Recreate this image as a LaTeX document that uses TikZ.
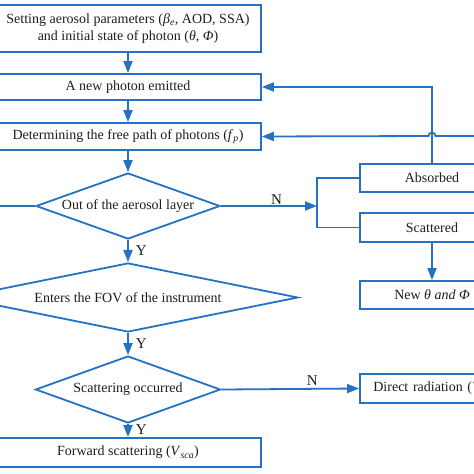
\documentclass[tikz,border=0pt]{standalone}
\usepackage{fontspec}
\setmainfont{Liberation Serif}
\usetikzlibrary{arrows.meta,shapes.geometric}
\definecolor{flowblue}{RGB}{37,114,196}
\definecolor{txt}{RGB}{30,30,30}
\tikzset{
  box/.style={draw=flowblue,line width=1.8pt,rectangle,inner sep=0pt,text=txt,
    font=\fontsize{14}{17}\selectfont,align=center},
  dia/.style={draw=flowblue,line width=1.8pt,diamond,inner sep=0pt,text=txt,
    font=\fontsize{14}{17}\selectfont},
  conn/.style={draw=flowblue,line width=1.8pt},
  arr/.style={conn,-{Triangle[length=12pt,width=9pt]}},
  lab/.style={text=txt,font=\fontsize{15}{17}\selectfont,inner sep=0pt}
}
\begin{document}
\begin{tikzpicture}[x=1pt,y=-1pt]
\useasboundingbox (0,0) rectangle (474,474);
\clip (0,0) rectangle (474,474);
\fill[white] (0,0) rectangle (474,474);
% main column
\node[box,minimum width=266pt,minimum height=47pt] (init) at (128,28.5)
  {Setting aerosol parameters (\textit{β}\textsubscript{\textit{e}}, AOD, SSA)\\and initial state of photon (\textit{θ}, \textit{Φ})};
\node[box,minimum width=266pt,minimum height=26pt] (emit) at (128,87) {A new photon emitted};
\node[box,minimum width=266pt,minimum height=27pt] (path) at (128,136.5)
  {Determining the free path of photons (\textit{f}\textsubscript{\textit{p}})};
\node[dia,shape aspect=2.79,minimum width=184pt,minimum height=66pt] (out) at (128,206) {Out of the aerosol layer};
\node[dia,shape aspect=4.93,minimum width=340pt,minimum height=69pt] (fov) at (128,297.5) {Enters the FOV of the instrument};
\node[dia,shape aspect=2.76,minimum width=185pt,minimum height=67pt] (scat) at (128,389.5) {Scattering occurred};
\node[box,minimum width=266pt,minimum height=29pt] (fwd) at (128,452.5)
  {Forward scattering (\textit{V}\textsubscript{\textit{sca}})};
% right column
\node[box,minimum width=144pt,minimum height=28pt] (abs) at (432,178) {Absorbed};
\node[box,minimum width=144pt,minimum height=29pt] (sca) at (432,227.5) {Scattered};
\node[box,minimum width=144pt,minimum height=28pt] (new) at (432,295) {New \textit{θ and Φ}};
\node[box,minimum width=144pt,minimum height=29pt,text width=144pt] (dir) at (432,388.5)
  {\hspace*{8pt}Direct radiation (\textit{V}\textsubscript{\textit{dir}})};
% coordinates
\coordinate (brk) at (317,206);
\coordinate (leftend) at (-10,206);
\coordinate (fpin) at (490,136);
\coordinate (hop) at (432,136);
\coordinate (upturn) at (432,87);
% connectors
\draw[arr] (init) -- (emit);
\draw[arr] (emit) -- (path);
\draw[arr] (path) -- (out.north);
\draw[arr] (out.south) -- node[lab,right=7pt,pos=0.5]{Y} (fov.north);
\draw[arr] (fov.south) -- node[lab,right=7pt,pos=0.5]{Y} (scat.north);
\draw[arr] (scat.south) -- node[lab,right=7pt,pos=0.4]{Y} (fwd);
\draw[arr] (out.east) -- node[lab,above=1pt,pos=0.58]{N} (brk);
\draw[arr] (scat.east) -- node[lab,above=2pt,pos=0.66]{N} (dir.west);
\draw[conn] (out.west) -- (leftend);
\draw[conn] (abs.west) -- (brk |- abs.west) -- (brk |- sca.west) -- (sca.west);
\draw[arr] (sca) -- (new);
\draw[arr] (abs.north) -- (upturn) -- (emit.east);
\draw[arr] (fpin) -- ([xshift=3.5pt]hop) arc[start angle=0,end angle=180,radius=3.5pt] -- (path.east);
\end{tikzpicture}
\end{document}
